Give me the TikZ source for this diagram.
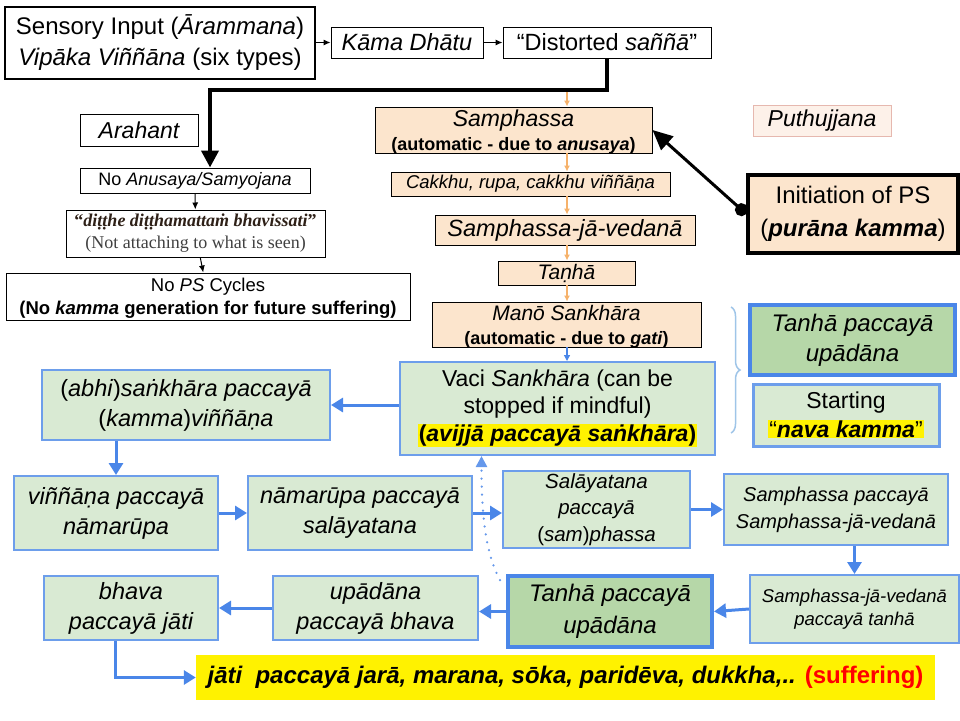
\documentclass[tikz,border=0pt]{standalone}
\usepackage{fontspec}
\setmainfont{Liberation Sans}
\newfontfamily\timesfont{Liberation Serif}
\usetikzlibrary{arrows.meta,decorations.pathreplacing}

\definecolor{peach}{HTML}{FCE5CD}
\definecolor{peachline}{HTML}{F6B26B}
\definecolor{palegreen}{HTML}{D9EAD3}
\definecolor{midgreen}{HTML}{B6D7A8}
\definecolor{flowblue}{HTML}{4A86E8}
\definecolor{boxblue}{HTML}{6D9EEB}
\definecolor{bracegray}{HTML}{9FC5E8}
\definecolor{blush}{HTML}{FDF1E9}
\definecolor{blushline}{HTML}{E6B8AF}
\definecolor{inkbrown}{HTML}{2E2017}

\newcommand{\pxfont}[2]{\fontsize{#1}{#2}\selectfont}
\setlength{\fboxsep}{1pt}

\begin{document}
\begin{tikzpicture}[x=1pt, y=-1pt,
    box/.style={draw, inner sep=1pt, align=center, text=black},
    plainbox/.style={box, fill=white, line width=1pt},
    peachbox/.style={box, fill=peach, line width=0.9pt},
    greenbox/.style={box, fill=palegreen, draw=boxblue, line width=2pt},
    keybox/.style={box, fill=midgreen, draw=flowblue, line width=4pt},
    link/.style={-{Latex[length=7pt,width=6pt]}, line width=1pt},
    chain/.style={-{Latex[length=6pt,width=6pt]}, peachline, line width=1.5pt},
    flow/.style={-{Triangle[length=12pt,width=14pt]}, flowblue, line width=3pt},
]
    \useasboundingbox (0,0) rectangle (960,720);

    % Sensory input and the first split
    \node[plainbox, line width=2pt, minimum width=310pt, minimum height=72pt, font=\pxfont{24}{31}] (sensory) at (160,43)
        {Sensory Input (\textit{Ārammana})\\\textit{Vipāka Viññāna} (six types)};
    \node[plainbox, minimum width=152pt, minimum height=31pt, font=\pxfont{23.5}{26}\itshape] (kama) at (407,42.5) {Kāma Dhātu};
    \node[plainbox, minimum width=208pt, minimum height=31pt, font=\pxfont{23.5}{26}] (distorted) at (607,42.5) {“Distorted \textit{saññā}”};

    \draw[link] (sensory.east |- kama.west) -- (kama.west);
    \draw[link] (kama.east) -- (distorted.west);

    % Arahant branch
    \node[plainbox, minimum width=118pt, minimum height=32pt, font=\pxfont{23}{26}\itshape] (arahant) at (139,130) {Arahant};
    \node[plainbox, minimum width=230pt, minimum height=25pt, font=\pxfont{18}{20}] (noanu) at (195,180.5) {No \textit{Anusaya/Samyojana}};
    \node[plainbox, minimum width=259pt, minimum height=47pt, font=\timesfont\pxfont{18}{22}] (ditthe) at (195.5,233.5)
        {\textcolor{inkbrown}{\textbf{“\textit{diṭṭhe diṭṭhamattaṁ bhavissati}”}}\\\textcolor{darkgray}{(Not attaching to what is seen)}};
    \node[plainbox, minimum width=404pt, minimum height=47pt, text depth=0pt, font=\pxfont{18.5}{23}] (nops) at (208,296.5)
        {No \textit{PS} Cycles\\\textbf{(No \textit{kamma} generation for future suffering)}};

    \coordinate (dropL) at (210,90);
    \draw[line width=4pt, -{Triangle[length=17pt,width=17pt]}] (distorted.south) |- (dropL) -- (noanu.north -| dropL);
    \draw[link] (noanu) -- (ditthe);
    \draw[link] (ditthe) -- (nops);

    % Puthujjana chain
    \node[box, fill=blush, draw=blushline, line width=0.8pt, minimum width=138pt, minimum height=31pt, font=\pxfont{23}{26}\itshape] (puthu) at (822,120.5) {Puthujjana};
    \node[peachbox, minimum width=277pt, minimum height=46pt, text depth=0pt, font=\pxfont{18}{24}] (samph) at (513.5,130)
        {{\pxfont{23}{24}\itshape Samphassa}\\\textbf{(automatic - due to \textit{anusaya})}};
    \node[peachbox, minimum width=279pt, minimum height=24pt, font=\pxfont{18.5}{20}\itshape] (cakkhu) at (530.5,184) {Cakkhu, rupa, cakkhu viññāṇa};
    \node[peachbox, minimum width=260pt, minimum height=30pt, font=\pxfont{23.5}{26}\itshape] (vedana) at (565,230) {Samphassa-jā-vedanā};
    \node[peachbox, minimum width=137pt, minimum height=24pt, font=\pxfont{21}{24}\itshape] (tanha) at (566.5,273) {Taṇhā};
    \node[peachbox, minimum width=269pt, minimum height=45pt, text depth=0pt, font=\pxfont{18}{24}] (mano) at (566.5,324.5)
        {{\pxfont{21}{24}\itshape Manō Sankhāra}\\\textbf{(automatic - due to \textit{gati})}};
    \node[peachbox, line width=3.5pt, minimum width=210pt, minimum height=78pt, font=\pxfont{24}{33}] (init) at (853,214)
        {Initiation of PS\\(\textbf{\textit{purāna kamma}})};

    \coordinate (spine) at (567,92);
    \draw[chain] (spine) -- (samph.north -| spine);
    \draw[chain] (samph.south -| spine) -- (cakkhu.north -| spine);
    \draw[chain] (cakkhu.south -| spine) -- (vedana.north -| spine);
    \draw[chain] (vedana.south -| spine) -- (tanha.north -| spine);
    \draw[chain] (tanha.south -| spine) -- (mano.north -| spine);
    \draw[line width=3pt, {Circle[length=13pt]}-{Triangle[length=20pt,width=18pt]}] (init.west) -- (samph.east);

    % New kamma side
    \node[keybox, minimum width=205pt, minimum height=70pt, font=\pxfont{24}{30}\itshape] (tanhaR) at (852.5,340) {Tanhā paccayā\\upādāna};
    \node[greenbox, line width=3pt, minimum width=186pt, minimum height=62pt, font=\pxfont{23}{29}] (start) at (846,415)
        {Starting\\\colorbox{yellow}{“\textbf{\textit{nava kamma}}”}};
    \draw[bracegray, line width=1.5pt, decorate, decoration={brace, amplitude=9pt}] (731,307) -- (731,433);

    % Paticca samuppada cycle
    \node[greenbox, minimum width=315pt, minimum height=93pt, font=\pxfont{23}{27.5}] (vaci) at (557.5,408.5)
        {Vaci \textit{Sankhāra} (can be\\stopped if mindful)\\\colorbox{yellow}{\textbf{(\textit{avijjā paccayā saṅkhāra})}}};
    \node[greenbox, minimum width=288pt, minimum height=70pt, font=\pxfont{23.5}{30}] (abhi) at (186,405)
        {(\textit{abhi})\textit{saṅkhāra paccayā}\\(\textit{kamma})\textit{viññāṇa}};
    \node[greenbox, minimum width=204pt, minimum height=74pt, font=\pxfont{23.5}{30}\itshape] (vinn) at (116,513) {viññāṇa paccayā\\nāmarūpa};
    \node[greenbox, minimum width=224pt, minimum height=74pt, font=\pxfont{23.5}{30}\itshape] (nama) at (360,513) {nāmarūpa paccayā\\salāyatana};
    \node[greenbox, minimum width=187pt, minimum height=77pt, font=\pxfont{20.5}{26.5}] (salay) at (596.5,509.5)
        {\textit{Salāyatana}\\\textit{paccayā}\\(\textit{sam})\textit{phassa}};
    \node[greenbox, minimum width=224pt, minimum height=71pt, font=\pxfont{20}{27}\itshape] (sampP) at (836,509.5) {Samphassa paccayā\\Samphassa-jā-vedanā};
    \node[greenbox, minimum width=209pt, minimum height=68pt, font=\pxfont{18.5}{23}\itshape] (svt) at (854.5,609) {Samphassa-jā-vedanā\\paccayā tanhā};
    \node[keybox, minimum width=204pt, minimum height=71pt, font=\pxfont{24}{32}\itshape] (tanhaB) at (610,611.5) {Tanhā paccayā\\upādāna};
    \node[greenbox, minimum width=205pt, minimum height=64pt, font=\pxfont{23.5}{30}\itshape] (upad) at (375.5,608) {upādāna\\paccayā bhava};
    \node[greenbox, minimum width=174pt, minimum height=64pt, font=\pxfont{23.5}{30}\itshape] (bhava) at (131,608) {bhava\\paccayā jāti};
    \node[box, draw=none, fill=yellow, minimum width=739pt, minimum height=45pt, font=\pxfont{24}{26}\bfseries\itshape] (suffer) at (565.5,677.5)
        {jāti\ \ paccayā jarā, marana, sōka, paridēva, dukkha,.. \textcolor{red}{\upshape(suffering)}};

    \draw[flowblue, line width=1.2pt, -{Triangle[length=6pt,width=6pt]}] (mano.south -| spine) -- (vaci.north -| spine);
    \draw[flow] (vaci.west |- abhi.east) -- (abhi.east);
    \draw[flow] (abhi.south -| vinn.north) -- (vinn.north);
    \draw[flow] (vinn.east) -- (nama.west);
    \draw[flow] (nama.east) -- (salay.west |- nama.east);
    \draw[flow] (salay.east) -- (sampP.west);
    \draw[flow] (sampP.south -| svt.north) -- (svt.north);
    \draw[flow] (svt.west) -- (tanhaB.east);
    \draw[flow] (tanhaB.west) -- (upad.east |- tanhaB.west);
    \draw[flow] (upad.west) -- (bhava.east);
    \draw[flow] ([xshift=-16pt]bhava.south) |- (suffer.west);

    % Dotted feedback to vaci sankhara
    \draw[flowblue!85, line width=2.5pt, line cap=round, dash pattern=on 0pt off 8pt, -{Triangle[length=11pt,width=11pt]}]
        ([xshift=-6pt,yshift=-6pt]tanhaB.north west) .. controls +(-14,-25) and +(0,60) .. ([xshift=-76pt]vaci.south);

\end{tikzpicture}
\end{document}
